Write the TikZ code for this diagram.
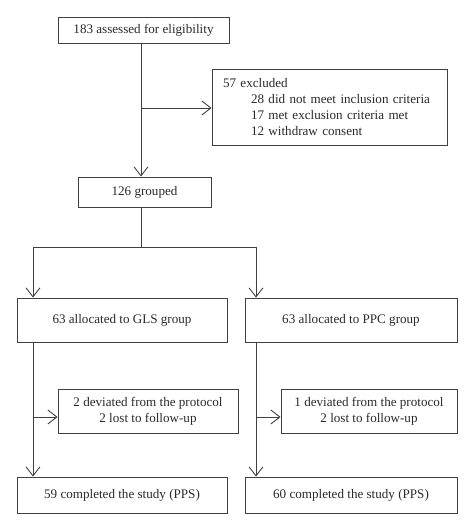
\documentclass[tikz,border=0pt]{standalone}
\usepackage{fontspec}
\setmainfont{Liberation Serif}
\usetikzlibrary{arrows.meta}
\definecolor{ln}{HTML}{404040}
\definecolor{tx}{HTML}{2A2A2A}
\begin{document}
\begin{tikzpicture}[x=1pt,y=-1pt,
  box/.style={draw=ln,line width=0.9pt,rectangle,inner sep=0pt,text=tx,font=\fontsize{13.1}{16}\selectfont},
  conn/.style={draw=ln,line width=0.9pt},
  arr/.style={conn,-{Straight Barb[length=9pt,width=14pt,line width=0.9pt]}}]
\useasboundingbox (0,0) rectangle (474,530);
\fill[white] (0,0) rectangle (474,530);
% boxes
\node[box,minimum width=171pt,minimum height=26pt] (assess) at (143.5,30) {183 assessed for eligibility};
\node[box,minimum width=235pt,minimum height=76pt,text width=213pt,align=left,inner xsep=11pt] (excl) at (329.5,107)
 {57 excluded\\\hspace*{28pt}28 did not meet inclusion criteria\\\hspace*{28pt}17 met exclusion criteria met\\\hspace*{28pt}12 withdraw consent};
\node[box,minimum width=133pt,minimum height=30pt] (grp) at (144.5,192) {126 grouped};
\node[box,minimum width=210pt,minimum height=44pt] (gls) at (122,320) {63 allocated to GLS group};
\node[box,minimum width=212pt,minimum height=44pt] (ppc) at (351,320) {63 allocated to PPC group};
\node[box,minimum width=180pt,minimum height=44pt,align=center] (devl) at (148,411) {2 deviated from the protocol\\2 lost to follow-up};
\node[box,minimum width=176pt,minimum height=44pt,align=center] (devr) at (369,411) {1 deviated from the protocol\\2 lost to follow-up};
\node[box,minimum width=210pt,minimum height=36pt] (cl) at (122,495) {59 completed the study (PPS)};
\node[box,minimum width=212pt,minimum height=36pt] (cr) at (351,495) {60 completed the study (PPS)};
% coordinates
\coordinate (a1) at (141,108);
\coordinate (g1) at (141,247);
\coordinate (gl) at (33,247);
\coordinate (gr) at (256,247);
\coordinate (l1) at (33,417);
\coordinate (r1) at (256,417);
% connectors
\draw[arr] (141,0 |- assess.south) -- (141,0 |- grp.north);
\draw[arr] (a1) -- (a1 -| excl.west);
\draw[conn] (141,0 |- grp.south) -- (g1);
\draw[conn] (gl) -- (gr);
\draw[arr] (gl) -- (gl |- gls.north);
\draw[arr] (gr) -- (gr |- ppc.north);
\draw[arr] (33,0 |- gls.south) -- (33,0 |- cl.north);
\draw[arr] (256,0 |- ppc.south) -- (256,0 |- cr.north);
\draw[arr] (l1) -- (l1 -| devl.west);
\draw[arr] (r1) -- (r1 -| devr.west);
\end{tikzpicture}
\end{document}
